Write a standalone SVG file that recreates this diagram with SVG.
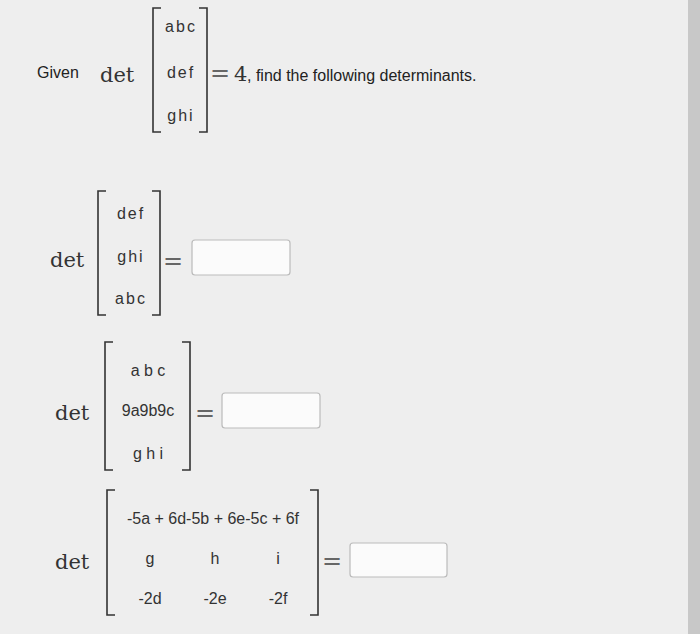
<svg xmlns="http://www.w3.org/2000/svg" width="700" height="634" viewBox="0 0 700 634">
<style>
.s{font-family:"Liberation Sans",Arial,sans-serif;font-size:16px;fill:#222}
.m{font-family:"Liberation Sans",Arial,sans-serif;font-size:16px;fill:#333;text-anchor:middle}
.w{letter-spacing:2px}
.d{font-family:"DejaVu Serif","Liberation Serif",serif;font-size:21px;fill:#333}
.b{fill:none;stroke:#333;stroke-width:1.6}
.eq{font-family:"DejaVu Serif",serif;font-size:24px;fill:#666}
.box{fill:#fbfbfb;stroke:#bbb;stroke-width:1.2}
</style>
<rect width="700" height="634" fill="#eeeeee"/>
<rect x="688" width="12" height="634" fill="#c8c8c8"/>
<g id="given">
<text x="37" y="78" class="s">Given</text>
<text x="100" y="82" class="d">det</text>
<path class="b" d="M161 8H153V132H161M199 8H207V132H199"/>
<text x="181" y="32" class="m w">abc</text>
<text x="181" y="78" class="m w">def</text>
<text x="181" y="121" class="m w">ghi</text>
<text x="210" y="81" class="eq">=</text>
<text x="234" y="81" class="d">4</text>
<text x="247" y="81" class="s">, find the following determinants.</text>
</g>
<g id="q1">
<text x="50" y="267" class="d">det</text>
<path class="b" d="M106 191H98V315H106M152 191H160V315H152"/>
<text x="131" y="219" class="m w">def</text>
<text x="131" y="262" class="m w">ghi</text>
<text x="131" y="304" class="m w">abc</text>
<text x="163" y="269" class="eq">=</text>
<rect class="box" x="192" y="240" width="98" height="35" rx="3"/>
</g>
<g id="q2">
<text x="55" y="420" class="d">det</text>
<path class="b" d="M113 342H105V470H113M182 342H190V470H182"/>
<text x="148" y="376" class="m">a  b  c</text>
<text x="148" y="416" class="m">9a9b9c</text>
<text x="148" y="459" class="m">g  h  i</text>
<text x="195" y="421" class="eq">=</text>
<rect class="box" x="222" y="393" width="98" height="35" rx="3"/>
</g>
<g id="q3">
<text x="55" y="569" class="d">det</text>
<path class="b" d="M115 490H107V615H115M310 490H318V615H310"/>
<text x="213" y="524" class="m">-5a + 6d-5b + 6e-5c + 6f</text>
<text x="150" y="564" class="m">g</text>
<text x="215" y="564" class="m">h</text>
<text x="278" y="564" class="m">i</text>
<text x="150" y="604" class="m">-2d</text>
<text x="215" y="604" class="m">-2e</text>
<text x="278" y="604" class="m">-2f</text>
<text x="322" y="569" class="eq">=</text>
<rect class="box" x="350" y="543" width="97" height="34" rx="3"/>
</g>
<g id="connectors"/>
</svg>
